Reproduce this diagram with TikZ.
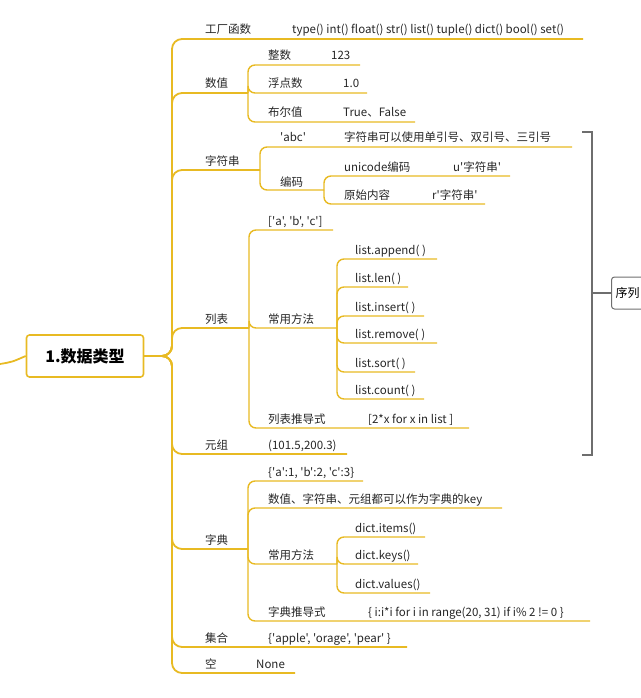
\documentclass[tikz,border=0pt]{standalone}
\usepackage{fontspec}
\setmainfont{Noto Sans CJK SC}
\newfontfamily\cj{Noto Sans CJK SC}
\definecolor{gold}{RGB}{232,186,35}
\definecolor{brk}{RGB}{110,110,110}
\begin{document}
\begin{tikzpicture}[x=1pt,y=-1pt,
  br/.style={draw=gold,line width=1.8pt,rounded corners=10pt},
  br2/.style={draw=gold,line width=1.4pt,rounded corners=7pt},
  txt/.style={anchor=base west,inner sep=0pt,font=\cj\fontsize{11.5}{12}\selectfont,text=black!85}]
\useasboundingbox (0,0) rectangle (640,698);
% main
\node[draw=gold,line width=1.6pt,rounded corners=3pt,minimum width=117pt,minimum height=42pt,font=\cj\fontsize{16}{18}\selectfont\bfseries] (root) at (85,356) {1.数据类型};
\coordinate (lin) at (0,364);
\draw[br] (lin) .. controls (12,362) .. (root.west);
\coordinate (T) at (166,356);
\draw[br] (root.east) -- (T);
% level 1 lines
\foreach \y/\e in {39/583,93/248,170/260,328/249,454/347,549/248,647/407,673/295}{
  \draw[br] (T) -- (172,356) -- (172,\y) -- (\e,\y);
}
% 工厂函数
\node[txt] (gc) at (205,34) {工厂函数};
\node[txt] (gcv) at (292,34) {type() int() float() str() list() tuple() dict() bool() set()};
% 数值
\node[txt] (sz) at (205,88) {数值};
\foreach \y/\e in {65/360,93/367,122/415}{\draw[br2] (248,93) -- (248,\y) -- (\e,\y);}
\node[txt] (zs) at (268,60) {整数}; \node[txt] at (331,60) {123};
\node[txt] (fd) at (268,88) {浮点数}; \node[txt] at (343,88) {1.0};
\node[txt] (be) at (268,117) {布尔值}; \node[txt] at (343,117) {True、False};
% 字符串
\node[txt] (zfc) at (205,165) {字符串};
\draw[br2] (260,170) -- (260,147) -- (572,147);
\draw[br2] (260,170) -- (260,190) -- (324,190);
\node[txt] at (280,142) {'abc'}; \node[txt] at (344,142) {字符串可以使用单引号、双引号、三引号};
\node[txt] (bm) at (280,186) {编码};
\draw[br2] (324,190) -- (324,176) -- (510,176);
\draw[br2] (324,190) -- (324,204) -- (485,204);
\node[txt] at (344,171) {unicode编码}; \node[txt] at (453,171) {u'字符串'};
\node[txt] at (344,199) {原始内容}; \node[txt] at (432,199) {r'字符串'};
% 列表
\node[txt] (lb) at (205,323) {列表};
\foreach \y/\e in {230/333,328/337,428/469}{\draw[br2] (249,328) -- (249,\y) -- (\e,\y);}
\node[txt] at (268,225) {['a', 'b', 'c']};
\node[txt] at (268,323) {常用方法};
\node[txt] at (268,423) {列表推导式}; \node[txt] at (368,423) {[2*x for x in list ]};
\foreach \y/\e/\t in {259/437/append,287/408/len,316/424/insert,343/437/remove,372/415/sort,399/424/count}{
  \draw[br2] (337,328) -- (337,\y) -- (\e,\y);
  \node[txt] at (355,\y-5) {list.\t( )};
}
% 元组
\node[txt] at (205,449) {元组}; \node[txt] at (268,449) {(101.5,200.3)};
% 字典
\node[txt] at (205,544) {字典};
\foreach \y/\e in {481/363,508/502,564/337,621/590}{\draw[br2] (248,549) -- (248,\y) -- (\e,\y);}
\node[txt] at (268,476) {\{'a':1, 'b':2, 'c':3\}};
\node[txt] at (268,503) {数值、字符串、元组都可以作为字典的key};
\node[txt] at (268,559) {常用方法};
\foreach \y/\e/\t in {537/425/items,564/418/keys,593/430/values}{
  \draw[br2] (337,564) -- (337,\y) -- (\e,\y);
  \node[txt] at (355,\y-5) {dict.\t()};
}
\node[txt] at (268,616) {字典推导式}; \node[txt] at (368,616) {\{ i:i*i for i in range(20, 31) if i\% 2 != 0 \}};
% 集合, 空
\node[txt] at (205,642) {集合}; \node[txt] at (268,642) {\{'apple', 'orage', 'pear' \}};
\node[txt] at (205,668) {空}; \node[txt] at (256,668) {None};
% bracket
\draw[brk,line width=1.2pt] (582,132) -- (592,132) -- (592,455) -- (582,455);
\node[draw=brk,line width=1pt,rounded corners=3pt,anchor=west,minimum height=32pt,inner xsep=4pt,text width=40pt,font=\cj\fontsize{12}{14}\selectfont] (xl) at (611,293) {序列};
\draw[brk,line width=1.2pt] (592,293) -- (xl.west);
\end{tikzpicture}
\end{document}
